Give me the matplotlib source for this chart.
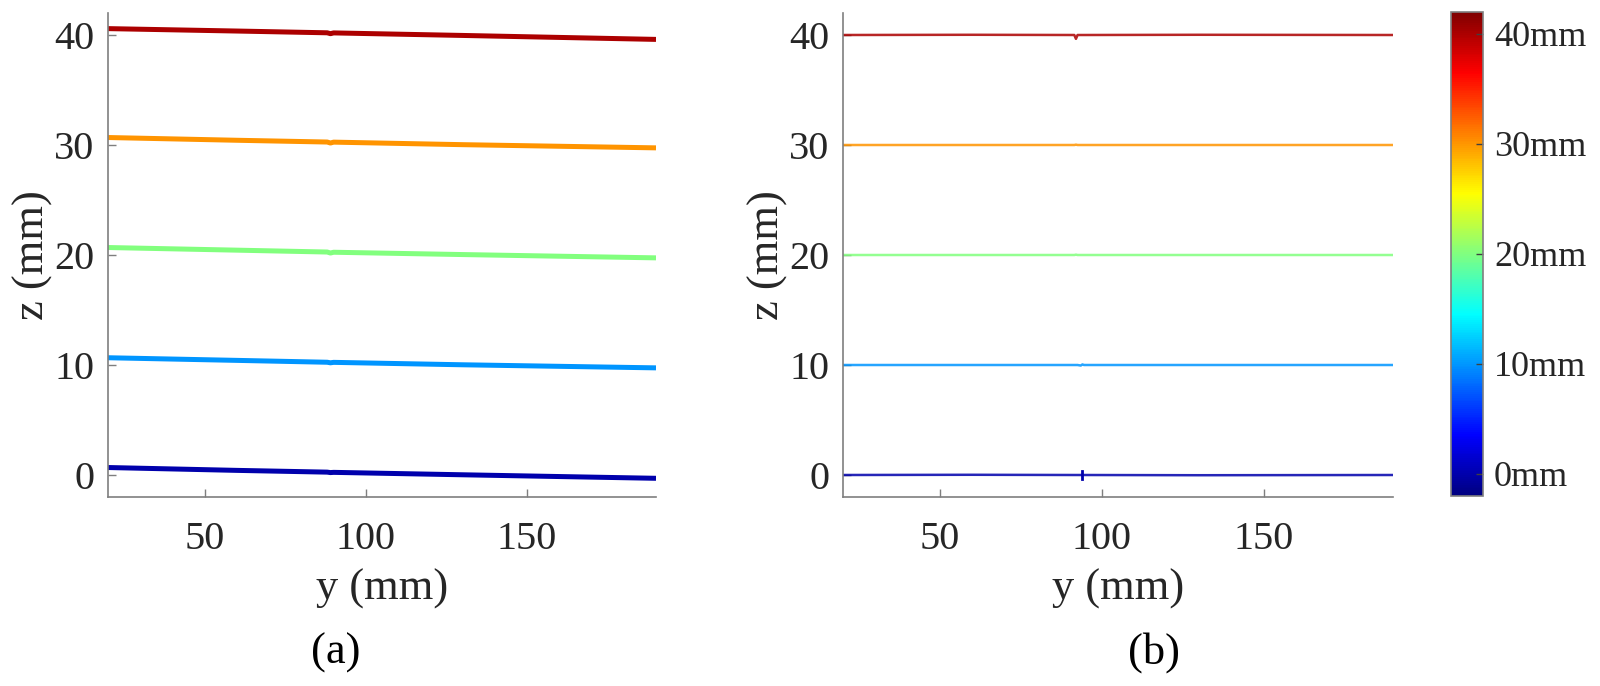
import matplotlib.pyplot as plt
from matplotlib import cm
from matplotlib.colors import LinearSegmentedColormap, Normalize

plt.rcParams["font.family"] = ["Liberation Serif", "DejaVu Serif"]

LEVELS = [0, 10, 20, 30, 40]
CBAR_TICK_LABELS = ["0mm", "10mm", "20mm", "30mm", "40mm"]

# (a) tilted profiles
Y_A = [20, 60, 88, 89, 90, 130, 190]
Z_A = {
    0: [0.68, 0.42, 0.26, 0.22, 0.24, 0.02, -0.30],
    10: [10.66, 10.42, 10.25, 10.20, 10.24, 10.02, 9.74],
    20: [20.68, 20.44, 20.27, 20.18, 20.25, 20.04, 19.74],
    30: [30.68, 30.43, 30.27, 30.18, 30.26, 30.03, 29.74],
    40: [40.58, 40.36, 40.20, 40.12, 40.19, 39.96, 39.60],
}

# (b) flat profiles after correction, with small spikes near y = 92..94
Y_B = [20, 60, 91.5, 92.0, 92.5, 93.5, 94.0, 94.5, 130, 190]
Z_B = {
    0: [0.0, 0.02, 0.0, 0.0, 0.0, 0.0, 0.0, 0.0, -0.02, 0.0],
    10: [10.0, 10.0, 10.0, 10.0, 10.0, 9.95, 10.05, 10.0, 10.0, 10.0],
    20: [20.0, 20.0, 20.0, 20.03, 20.0, 20.0, 20.0, 20.0, 20.0, 20.0],
    30: [30.0, 30.0, 30.0, 30.03, 30.0, 30.0, 30.0, 30.0, 30.0, 30.0],
    40: [40.0, 40.02, 40.0, 39.65, 40.0, 40.0, 40.0, 40.0, 40.02, 40.0],
}
SPIKE_B = {0: (94.0, -0.4, 0.4)}  # vertical blip on the 0 mm line

# MATLAB-style jet
matlab_jet = LinearSegmentedColormap("matlab_jet", {
    "red": [(0, 0, 0), (0.375, 0, 0), (0.625, 1, 1), (0.875, 1, 1), (1, 0.5, 0.5)],
    "green": [(0, 0, 0), (0.125, 0, 0), (0.375, 1, 1), (0.625, 1, 1), (0.875, 0, 0), (1, 0, 0)],
    "blue": [(0, 0.5, 0.5), (0.125, 1, 1), (0.375, 1, 1), (0.625, 0, 0), (1, 0, 0)],
})
norm = Normalize(vmin=-2, vmax=42)

fig = plt.figure(figsize=(16, 6.86), dpi=100)
W, H = 1600, 686


def px_axes(x0, x1, y0, y1):
    return fig.add_axes([x0 / W, 1 - y1 / H, (x1 - x0) / W, (y1 - y0) / H])


ax_a = px_axes(108, 656, 13, 497)
ax_b = px_axes(843, 1393, 13, 497)
cax = px_axes(1451, 1483, 12, 496)

for lvl in LEVELS:
    ax_a.plot(Y_A, Z_A[lvl], color=matlab_jet(norm(lvl)), lw=3.6, solid_capstyle="butt")
    ax_b.plot(Y_B, Z_B[lvl], color=matlab_jet(norm(lvl)), lw=1.8, alpha=0.85)
for lvl, (yy, lo, hi) in SPIKE_B.items():
    ax_b.plot([yy, yy], [lvl + lo, lvl + hi], color=matlab_jet(norm(lvl)), lw=2.0)

for ax in (ax_a, ax_b):
    ax.set_xlim(20, 190)
    ax.set_ylim(-2, 42)
    ax.set_xticks([50, 100, 150])
    ax.set_yticks(LEVELS)
    for side in ("top", "right"):
        ax.spines[side].set_visible(False)
    for side in ("left", "bottom"):
        ax.spines[side].set_color("#7f7f7f")
        ax.spines[side].set_linewidth(1.2)
    ax.tick_params(axis="both", direction="in", length=6, width=1, color="#7f7f7f",
                   labelsize=29, labelcolor="#262626")
    ax.tick_params(axis="x", pad=17)
    ax.tick_params(axis="y", pad=10)
    ax.set_xlabel("y (mm)", fontsize=32, color="#262626", va="center")
    ax.set_ylabel("z (mm)", fontsize=32, color="#262626", va="center")
    ax.xaxis.set_label_coords(0.5, -0.19)
    ax.yaxis.set_label_coords(-0.137, 0.5)

sm = cm.ScalarMappable(norm=norm, cmap=matlab_jet)
cb = fig.colorbar(sm, cax=cax, ticks=LEVELS)
cb.ax.set_yticklabels(CBAR_TICK_LABELS)
cb.outline.set_edgecolor("#7f7f7f")
cb.outline.set_linewidth(1.2)
cb.ax.tick_params(direction="in", length=5, width=1, color="#404040",
                  labelsize=26, labelcolor="#262626", pad=8)

fig.text(336 / W, 1 - 653 / H, "(a)", fontsize=32, color="black", ha="center", va="center")
fig.text(1154 / W, 1 - 653 / H, "(b)", fontsize=32, color="black", ha="center", va="center")

fig.savefig("out.png", dpi=100)
